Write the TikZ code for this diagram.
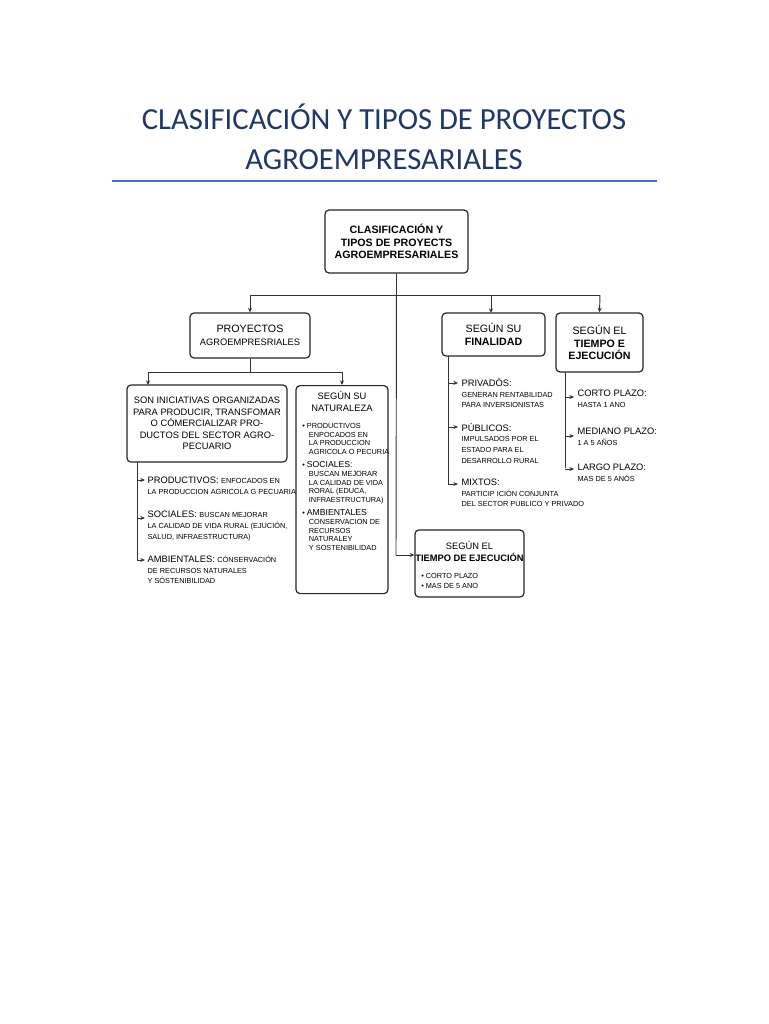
\documentclass[tikz,border=0pt]{standalone}
\usepackage{fontspec}
\setmainfont{Liberation Sans}
\newfontfamily\titlefont{Carlito}
\usetikzlibrary{arrows.meta}
\definecolor{tblue}{HTML}{1F3864}
\definecolor{rblue}{HTML}{4472C4}
\newcommand\smtxt{\fontsize{5.5}{6.6}\selectfont}
\begin{document}
\begin{tikzpicture}[x=0.75pt,y=-0.75pt,
  box/.style={draw=black!85,line width=0.9pt,rounded corners=3pt,inner sep=3pt,align=center,font=\fontsize{8}{9.5}\selectfont},
  ln/.style={draw=black!80,line width=0.7pt},
  ar/.style={ln,-{Stealth[length=3.5pt,width=3pt]}},
  itm/.style={anchor=west,align=left,inner sep=1pt,font=\fontsize{7}{8}\selectfont}]
\useasboundingbox (0,0) rectangle (768,1024);
\node[font=\titlefont\fontsize{23}{30}\selectfont,text=tblue,align=center] (title) at (384,137) {CLASIFICACIÓN Y TIPOS DE PROYECTOS\\AGROEMPRESARIALES};
\draw[rblue,line width=1.2pt] (112,181) -- (657,181);
% top
\node[box,minimum width=143*0.75pt,minimum height=63*0.75pt] (top) at (396.5,241.5) {\bfseries CLASIFICACIÓN Y\\\bfseries TIPOS DE PROYECTS\\\bfseries AGROEMPRESARIALES};
\node[box,minimum width=120*0.75pt,minimum height=45*0.75pt] (proy) at (250,335.5) {PROYECTOS\\{\fontsize{7}{9}\selectfont AGROEMPRESRIALES}};
\node[box,minimum width=103*0.75pt,minimum height=43*0.75pt] (fin) at (493.5,334.5) {SEGÚN SU\\\bfseries FINALIDAD};
\node[box,minimum width=87*0.75pt,minimum height=59*0.75pt] (tie) at (599.5,342.5) {SEGÚN EL\\\bfseries TIEMPO E\\\bfseries EJECUCIÓN};
\node[box,minimum width=160*0.75pt,minimum height=77*0.75pt,font=\fontsize{7}{8.6}\selectfont] (son) at (207,423.5) {SON INICIATIVAS ORGANIZADAS\\PARA PRODUCIR, TRANSFOMAR\\O CÓMERCIALIZAR PRO-\\DUCTOS DEL SECTOR AGRO-\\PECUARIO};
\node[box,minimum width=92*0.75pt,minimum height=208*0.75pt,anchor=north,inner sep=2pt] (nat) at (342,385) {};
\node[anchor=north,align=center,font=\fontsize{7}{8.6}\selectfont] (natt) at (342,387) {SEGÚN SU\\NATURALEZA};
\node[anchor=north west,align=left,inner sep=0pt,font=\smtxt] (natl) at (302,423) {\textbullet\ PRODUCTIVOS\\\hspace*{5pt}ENPOCADOS EN\\\hspace*{5pt}LA PRODUCCION\\\hspace*{5pt}AGRICOLA O PECURIA\\[3pt]\textbullet\ {\fontsize{6.5}{7}\selectfont SOCIALES:}\\\hspace*{5pt}BUSCAN MEJORAR\\\hspace*{5pt}LA CALIDAD DE VIDA\\\hspace*{5pt}RORAL (EDUCA,\\\hspace*{5pt}INFRAESTRUCTURA)\\[3pt]\textbullet\ {\fontsize{6.5}{7}\selectfont AMBIENTALES}\\\hspace*{5pt}CONSERVACION DE\\\hspace*{5pt}RECURSOS\\\hspace*{5pt}NATURALEY\\\hspace*{5pt}Y SOSTENIBILIDAD};
\node[box,minimum width=109*0.75pt,minimum height=67*0.75pt] (eje) at (469.5,563.5) {};
\node[anchor=north,align=center,font=\fontsize{7}{8.6}\selectfont] (ejet) at (469.5,537) {SEGÚN EL\\\bfseries TIEMPO DE EJECUCIÓN};
\node[anchor=north west,align=left,inner sep=0pt,font=\fontsize{5.5}{7.5}\selectfont] (ejel) at (421,573) {\textbullet\ CORTO PLAZO\\\textbullet\ MAS DE 5 ANO};
% connectors
\draw[ln] (250,295) -- (600,295);
\draw[ln] (top.south) -- (396,555);
\draw[ar] (396,555) -- (eje.west|-396,555);
\draw[ar] (250,295) -- (proy.north);
\draw[ar] (491,295) -- (491,313);
\draw[ar] (600,295) -- (tie.north);
\draw[ln] (proy.south) -- (250,372);
\draw[ln] (148,372) -- (342,372);
\draw[ar] (148,372) -- (148,385);
\draw[ar] (342,372) -- (nat.north);
% left list
\draw[ln] (137,462) -- (137,560);
\foreach \y in {480,518,560}{\draw[ar] (137,\y) -- (145,\y);}
\node[itm] (l1) at (146,486) {PRODUCTIVOS: {\smtxt ENFOCADOS EN}\\{\smtxt LA PRODUCCION AGRICOLA G PECUARIA}};
\node[itm] (l2) at (146,526) {SOCIALES: {\smtxt BUSCAN MEJORAR}\\{\smtxt LA CALIDAD DE VIDA RURAL (EJUCIÓN,}\\{\smtxt SALUD, INFRAESTRUCTURA)}};
\node[itm] (l3) at (146,570) {AMBIENTALES: {\smtxt CÓNSERVACIÓN}\\{\smtxt DE RECURSOS NATURALES}\\{\smtxt Y SÓSTENIBILIDAD}};
% finalidad
\draw[ln] (448,356) -- (448,484);
\foreach \y in {383,427,484}{\draw[ar] (448,\y) -- (458,\y);}
\node[itm] (f1) at (460,393) {PRIVADÓS:\\{\smtxt GENERAN RENTABILIDAD}\\{\smtxt PARA INVERSIONISTAS}};
\node[itm] (f2) at (460,443) {PÚBLICOS:\\{\smtxt IMPULSADOS POR EL}\\{\smtxt ESTADO PARA EL}\\{\smtxt DESARROLLO RURAL}};
\node[itm] (f3) at (460,493) {MIXTOS:\\{\smtxt PARTICIP ICIÓN CONJUNTA}\\{\smtxt DEL SECTOR PUBLICO Y PRIVADO}};
% tiempo
\draw[ln] (565,372) -- (565,468);
\foreach \y in {397,436,469}{\draw[ar] (565,\y) -- (574,\y);}
\node[itm] (t1) at (576,399) {CORTO PLAZO:\\{\smtxt HASTA 1 ANO}};
\node[itm] (t2) at (576,437) {MEDIANO PLAZO:\\{\smtxt 1 A 5 AÑOS}};
\node[itm] (t3) at (576,473) {LARGO PLAZO:\\{\smtxt MAS DE 5 ANÓS}};
\end{tikzpicture}
\end{document}
